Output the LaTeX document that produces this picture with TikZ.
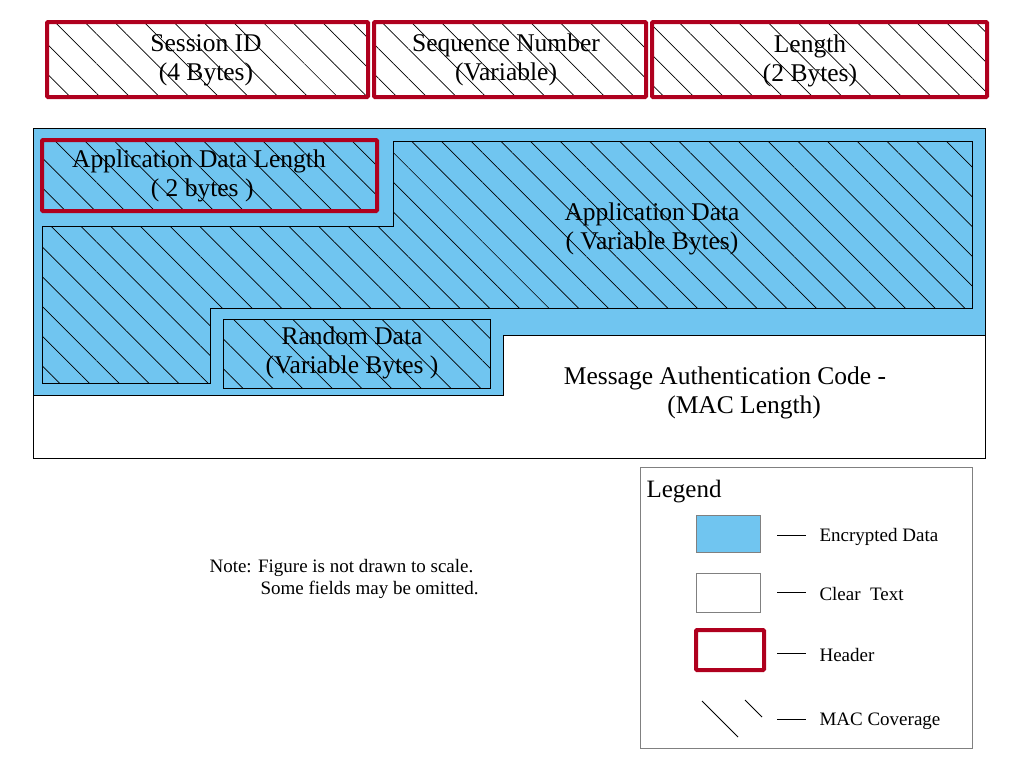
\documentclass[tikz,border=0pt]{standalone}
\usepackage{fontspec}
\setmainfont{Liberation Serif}
\usetikzlibrary{patterns.meta}
\definecolor{hred}{RGB}{175,0,30}
\definecolor{encb}{RGB}{112,197,240}
\tikzset{
  hatch/.style={pattern={Lines[distance=21pt,angle=-45,line width=0.7pt]},pattern color=black},
  hdr/.style={draw=hred,line width=4pt,rounded corners=1pt},
  big/.style={font=\fontsize{25.5}{29}\selectfont,align=center},
  small/.style={font=\fontsize{19}{23}\selectfont,anchor=west},
}
\begin{document}
\begin{tikzpicture}[x=1pt,y=-1pt]
\useasboundingbox (0,0) rectangle (1010,769);
% top header boxes
\foreach \a/\b in {47/368,374/646,652/987}{
  \path[hatch] (\a,22) rectangle (\b,97);
  \draw[hdr] (\a,22) rectangle (\b,97);
}
\node[big] (sid) at (206,60) {Session ID\\(4 Bytes)};
\node[big] (seq) at (506,60) {Sequence Number\\(Variable)};
\node[big] (len) at (810,61) {Length\\(2 Bytes)};
% outer frame
\draw[line width=1pt] (33,128) rectangle (985,458);
\draw[fill=encb,line width=1pt] (33,128) -- (985,128) -- (985,335) -- (503,335) -- (503,395) -- (33,395) -- cycle;
% application data
\path[hatch] (393,141) -- (972,141) -- (972,308) -- (210,308) -- (210,383) -- (42,383) -- (42,226) -- (393,226) -- cycle;
\draw[line width=1pt] (393,141) -- (972,141) -- (972,308) -- (210,308) -- (210,383) -- (42,383) -- (42,226) -- (393,226) -- cycle;
% ADL
\path[hatch] (42,140) rectangle (377,211);
\draw[hdr] (42,140) rectangle (377,211);
% random
\path[hatch] (223,319) rectangle (490,388);
\draw[line width=1pt] (223,319) rectangle (490,388);
\node[big] (adl) at (199,176) {Application Data Length\\\ ( 2 bytes )};
\node[big] (ad) at (652,229) {Application Data\\( Variable Bytes)};
\node[big] (rd) at (352,353) {Random Data\\(Variable Bytes )};
\node[big] (mac) at (725,393) {Message Authentication Code -\\\hspace*{1.5em}(MAC Length)};
% note
\node[small] (n1) at (206,568) {Note: Figure is not drawn to scale.};
\node[small] (n2) at (257,590) {Some fields may be omitted.};
% legend
\draw[gray,line width=1pt] (640,467) rectangle (972,748);
\node[font=\fontsize{25}{28}\selectfont,anchor=west] (lg) at (643,492) {Legend};
\draw[gray,fill=encb,line width=1pt] (696,515) rectangle (760,552);
\draw[gray,line width=1pt] (696,573) rectangle (760,612);
\draw[hdr] (696,630) rectangle (764,670);
\draw[line width=1pt] (702,701) -- (738,737) (745,700) -- (762,717);
\foreach \y/\t in {535/Encrypted Data,592/Clear\ \ Text,653/Header,719/MAC Coverage}{
  \draw[line width=1pt] (777,\y) -- (806,\y);
  \node[small] at (816,\y+2) {\t};
}
\end{tikzpicture}
\end{document}
